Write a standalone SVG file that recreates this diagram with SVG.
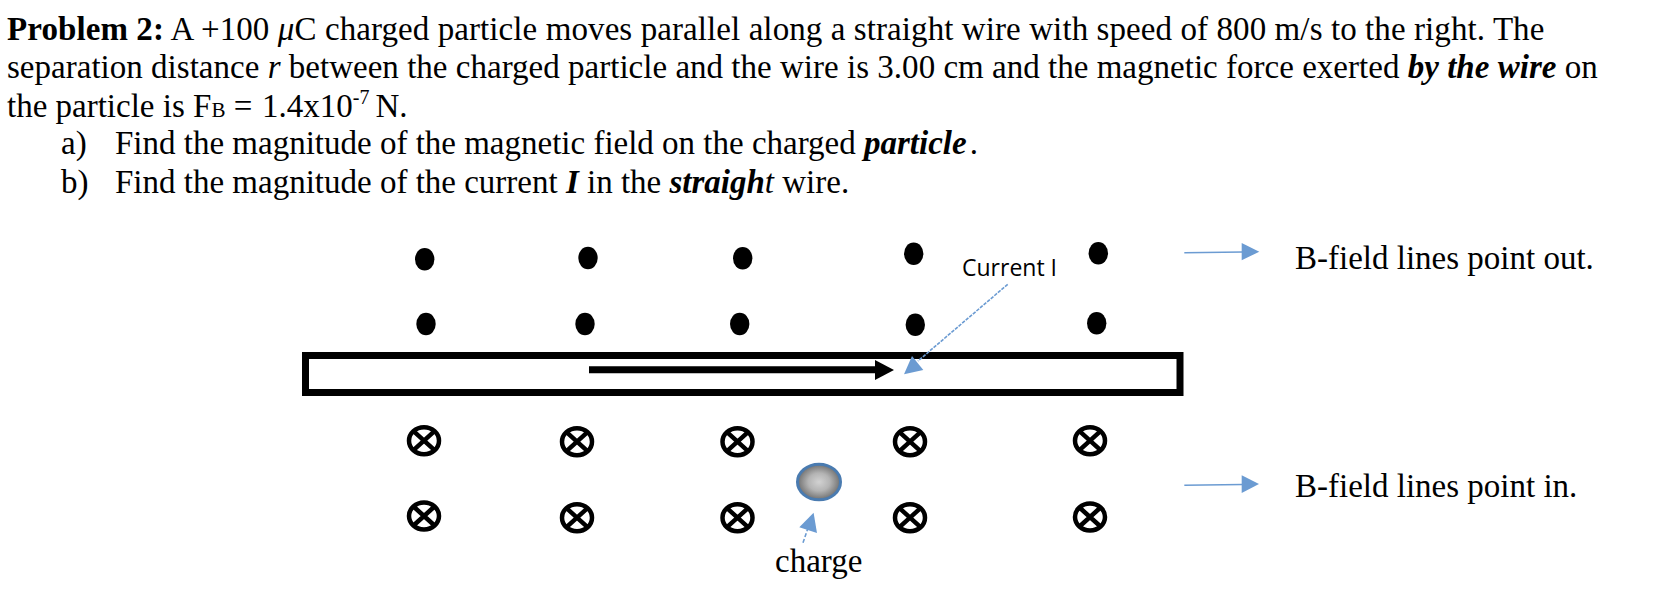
<svg xmlns="http://www.w3.org/2000/svg" width="1672" height="614" viewBox="0 0 1672 614">
<style>
text{font-family:"Liberation Serif","Times New Roman",serif;font-size:33px;fill:#000}
.b{font-weight:bold}.i{font-style:italic}.bi{font-weight:bold;font-style:italic}
.dot{fill:#000}
.x ellipse{fill:#fff;stroke:#000;stroke-width:4.5}
.x path{stroke:#000;stroke-width:4.5;fill:none}
.blue{stroke:#6b9bd2;stroke-width:1.6;fill:none}
.head{fill:#6b9bd2}
</style>
<defs>
<radialGradient id="g"><stop offset="0" stop-color="#d2d2d2"/><stop offset="0.5" stop-color="#b4b4b4"/><stop offset="1" stop-color="#707070"/></radialGradient>
<g id="xm" class="x"><ellipse rx="15" ry="13.5"/><path d="M-10.5 -9.5L10.5 9.5M-10.5 9.5L10.5 -9.5"/></g>
</defs>
<g id="problem">
<text x="7" y="39.7" letter-spacing="0.09"><tspan class="b">Problem 2:</tspan> A +100 <tspan class="i">μ</tspan>C charged particle moves parallel along a straight wire with speed of 800 m/s to the right. The</text>
<text x="7" y="77.7" letter-spacing="0.02"><tspan>separation distance </tspan><tspan class="i">r</tspan> between the charged particle and the wire is 3.00 cm and the magnetic force exerted <tspan class="bi">by the wire</tspan> on</text>
<text x="7" y="116.5">the particle is F<tspan font-size="21">B</tspan> = <tspan dx="1.5">1.4x10</tspan><tspan font-size="20" dy="-13">-7</tspan><tspan dy="13" dx="6">N.</tspan></text>
<text x="61" y="154">a)</text><text x="115" y="154">Find the magnitude of the magnetic field on the charged <tspan class="bi">particle</tspan><tspan dx="3">.</tspan></text>
<text x="61" y="192.6">b)</text><text x="115" y="192.6">Find the magnitude of the current <tspan class="bi">I</tspan> in the <tspan class="bi">straigh</tspan><tspan class="i">t</tspan> wire.</text>
</g>
<g id="field-out">
<ellipse class="dot" cx="424.7" cy="259.3" rx="9.7" ry="11.3"/><ellipse class="dot" cx="588" cy="258" rx="9.7" ry="11.3"/><ellipse class="dot" cx="742.7" cy="258.3" rx="9.7" ry="11.3"/><ellipse class="dot" cx="913.7" cy="253.7" rx="9.7" ry="11.3"/><ellipse class="dot" cx="1098.3" cy="253.3" rx="9.7" ry="11.3"/>
<ellipse class="dot" cx="426" cy="324" rx="9.7" ry="11.3"/><ellipse class="dot" cx="585" cy="324" rx="9.7" ry="11.3"/><ellipse class="dot" cx="739.7" cy="324" rx="9.7" ry="11.3"/><ellipse class="dot" cx="915.3" cy="324.7" rx="9.7" ry="11.3"/><ellipse class="dot" cx="1096.7" cy="323.3" rx="9.7" ry="11.3"/>
</g>
<g id="wire"><rect x="305.5" y="355.5" width="874.5" height="37" fill="#fff" stroke="#000" stroke-width="7"/></g>
<g id="field-in">
<use href="#xm" x="424" y="440.7"/><use href="#xm" x="577" y="441.7"/><use href="#xm" x="737.5" y="441.7"/><use href="#xm" x="910" y="441.7"/><use href="#xm" x="1090" y="440.7"/>
<use href="#xm" x="424" y="516"/><use href="#xm" x="577" y="517.7"/><use href="#xm" x="737.5" y="517.7"/><use href="#xm" x="910" y="517.7"/><use href="#xm" x="1090" y="517"/>
</g>
<g id="particle"><ellipse cx="819" cy="482" rx="21.5" ry="17.8" fill="url(#g)" stroke="#4a7bb0" stroke-width="3"/></g>
<g id="connectors">
<path d="M589 369.7H876" stroke="#000" stroke-width="7" fill="none"/><path d="M875 360L894 370L875 380Z" fill="#000"/>
<path class="blue" stroke-dasharray="3.5 1.2" d="M1007.7 284.3L918 361"/><path class="head" d="M904 374.3L912 356L923.3 370Z"/>
<path class="blue" d="M1184.3 252.7L1243 252"/><path class="head" d="M1241.7 243L1259.3 251.7L1241.7 260.3Z"/>
<path class="blue" d="M1184.3 485.3L1243 484.5"/><path class="head" d="M1241.7 475.3L1259 484L1241.7 493Z"/>
<path class="blue" stroke-dasharray="4 2" d="M803 542.7L808 528"/><path class="head" d="M813.6 512.7L799.3 527.3L817 533Z"/>
</g>
<g id="labels">
<text x="962" y="275.7" style="font-family:'Open Sans','Noto Sans',sans-serif;font-size:23px">Current I</text>
<text x="1295" y="268.7">B-field lines point out.</text>
<text x="1295" y="496.6">B-field lines point in.</text>
<text x="775" y="572">charge</text>
</g>
</svg>
